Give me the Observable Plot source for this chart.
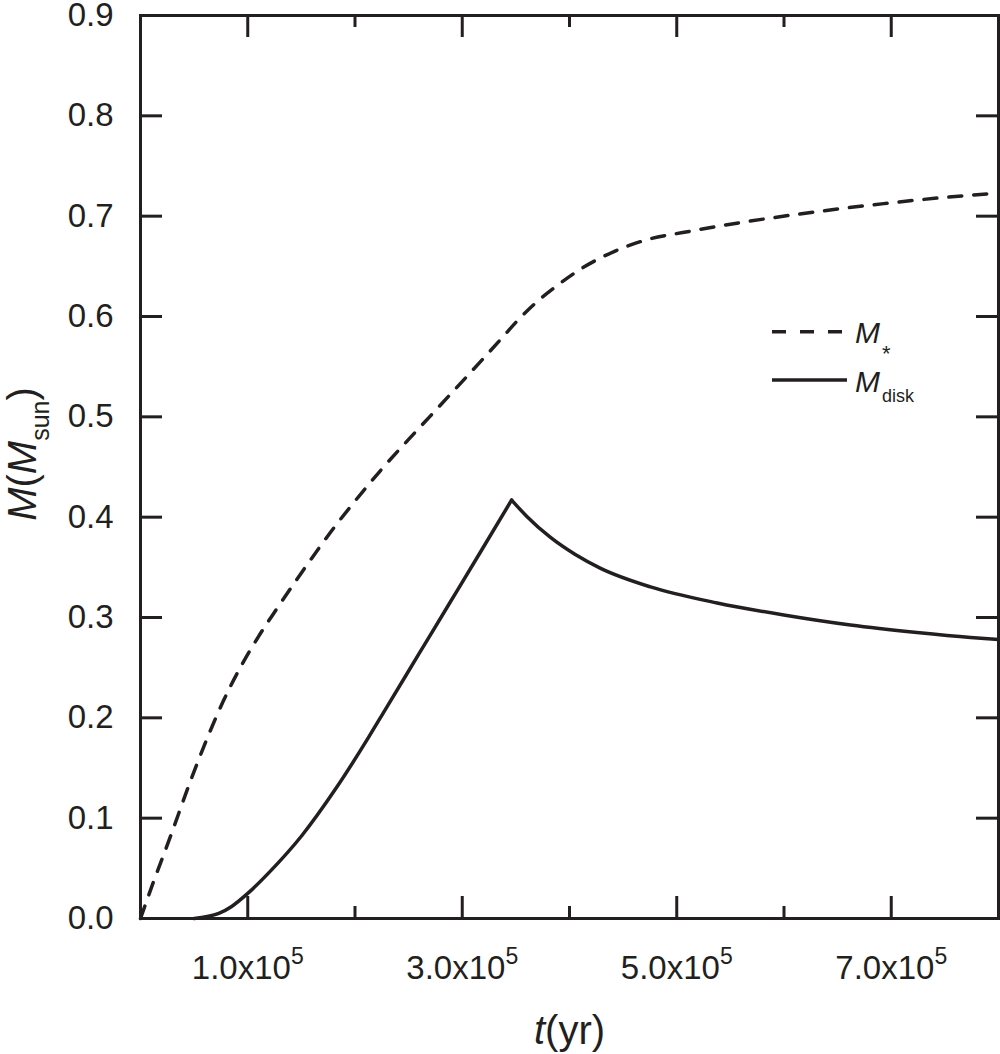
<!DOCTYPE html>
<html>
<head>
<meta charset="utf-8">
<script src="https://cdn.jsdelivr.net/npm/d3@7"></script>
<script src="https://cdn.jsdelivr.net/npm/@observablehq/plot@0.6"></script>
<style>
  html, body { margin: 0; padding: 0; background: #fff; }
  #chart { width: 1000px; height: 1054px; }
</style>
</head>
<body>
<div id="chart"></div>
<script>
// ---- data (t in years, mass in solar masses) ----
const starT = [0, 0.109e5, 0.28e5, 0.452e5, 0.623e5, 0.769e5, 0.935e5, 1.10e5, 1.26e5, 1.445e5, 1.663e5, 1.772e5, 2.0e5, 2.238e5, 2.5e5, 2.704e5, 2.89e5, 3.17e5, 3.357e5, 3.543e5, 3.70e5, 3.85e5, 4.10e5, 4.41e5, 4.72e5, 5.10e5, 5.59e5, 6.31e5, 6.93e5, 7.69e5, 8.0e5];
const starM = [0, 0.033, 0.082, 0.133, 0.180, 0.216, 0.251, 0.281, 0.307, 0.336, 0.369, 0.385, 0.416, 0.4465, 0.4775, 0.501, 0.5225, 0.555, 0.577, 0.599, 0.615, 0.628, 0.647, 0.6645, 0.6765, 0.6845, 0.6935, 0.7045, 0.7125, 0.7205, 0.723];

const diskT = [0.5e5, 0.73e5, 0.85e5, 1.0e5, 1.2e5, 1.507e5, 1.818e5, 2.129e5, 2.284e5, 2.6e5, 2.89e5, 3.17e5, 3.46e5, 3.60e5, 3.82e5, 4.05e5, 4.29e5, 4.755e5, 5.377e5, 5.998e5, 6.62e5, 7.24e5, 7.74e5, 8.0e5];
const diskM = [0, 0.005, 0.012, 0.025, 0.046, 0.083, 0.129, 0.181, 0.2085, 0.2644, 0.3157, 0.3653, 0.417, 0.401, 0.380, 0.363, 0.349, 0.3305, 0.3145, 0.3025, 0.2925, 0.285, 0.280, 0.278];

const xMajorTicks = [1e5, 3e5, 5e5, 7e5];
const xMinorTicks = [2e5, 4e5, 6e5];
const yTicks = [0.1, 0.2, 0.3, 0.4, 0.5, 0.6, 0.7, 0.8];
const yTickLabels = [0, 0.1, 0.2, 0.3, 0.4, 0.5, 0.6, 0.7, 0.8, 0.9];

const xLabel = "t(yr)";
const yLabel = "M(Msun)";
const legendLabels = ["M*", "Mdisk"];

// ---- layout / style ----
const ink = "#231f20";
const font = "'Liberation Sans', Arial, Helvetica, sans-serif";
const W = 1000, H = 1054;
const mL = 140, mR = 2, mT = 15, mB = 136;
const innerW = W - mL - mR, innerH = H - mT - mB;
const majorLen = 22, minorLen = 12;

const starRows = starT.map((t, i) => ({t, m: starM[i]}));
const peak = diskM.indexOf(d3.max(diskM));
const diskRows = [];
diskT.forEach((t, i) => {
  if (i <= peak) diskRows.push({t, m: diskM[i], seg: "rise"});
  if (i >= peak) diskRows.push({t, m: diskM[i], seg: "fall"});
});

const svg = Plot.plot({
  width: W,
  height: H,
  marginLeft: mL, marginRight: mR, marginTop: mT, marginBottom: mB,
  style: {fontFamily: font, color: ink, background: "#fff", overflow: "visible"},
  x: {domain: [0, 8e5], axis: null},
  y: {domain: [0, 0.9], axis: null},
  marks: [
    // ticks (inward, mirrored on all four sides)
    Plot.ruleX(xMajorTicks, {x: d => d, insetTop: innerH - majorLen, stroke: ink, strokeWidth: 3}),
    Plot.ruleX(xMajorTicks, {x: d => d, insetBottom: innerH - majorLen, stroke: ink, strokeWidth: 3}),
    Plot.ruleX(xMinorTicks, {x: d => d, insetTop: innerH - minorLen, stroke: ink, strokeWidth: 3}),
    Plot.ruleX(xMinorTicks, {x: d => d, insetBottom: innerH - minorLen, stroke: ink, strokeWidth: 3}),
    Plot.ruleY(yTicks, {y: d => d, insetRight: innerW - majorLen, stroke: ink, strokeWidth: 3}),
    Plot.ruleY(yTicks, {y: d => d, insetLeft: innerW - majorLen, stroke: ink, strokeWidth: 3}),
    // data
    Plot.line(starRows, {x: "t", y: "m", curve: "monotone-x", stroke: ink, strokeWidth: 3.5, strokeDasharray: "13,12"}),
    Plot.line(diskRows, {x: "t", y: "m", z: "seg", curve: "monotone-x", stroke: ink, strokeWidth: 3.5}),
    Plot.frame({stroke: ink, strokeWidth: 3}),
    // tick labels
    Plot.text(yTickLabels, {x: 0, y: d => d, text: d => d.toFixed(1), textAnchor: "end", dx: -27, fontSize: 33, fill: ink}),
    Plot.text(xMajorTicks, {x: d => d, y: 0, text: d => (d / 1e5).toFixed(1) + "x10^5", textAnchor: "middle", lineAnchor: "top", dy: 37, fontSize: 33, fill: ink}),
    // axis labels
    Plot.text([xLabel], {frameAnchor: "bottom", textAnchor: "middle", lineAnchor: "bottom", dy: 125, fontSize: 40, fill: ink}),
    Plot.text([yLabel], {frameAnchor: "left", textAnchor: "middle", rotate: -90, lineAnchor: "bottom", dx: -105, dy: -13, fontSize: 40, fill: ink})
  ]
});

// rich text: superscripts, italics, subscripts
d3.select(svg).selectAll("text").each(function () {
  const el = d3.select(this);
  const s = this.textContent;
  if (s.includes("^")) {
    const [base, exp] = s.split("^");
    this.textContent = "";
    el.append("tspan").text(base);
    el.append("tspan").attr("dy", -15).attr("font-size", 23).text(exp);
  } else if (s === xLabel) {
    this.textContent = "";
    el.append("tspan").attr("font-style", "italic").text("t");
    el.append("tspan").text("(yr)");
  } else if (s === yLabel) {
    this.textContent = "";
    el.append("tspan").attr("font-style", "italic").text("M");
    el.append("tspan").text("(");
    el.append("tspan").attr("font-style", "italic").text("M");
    el.append("tspan").attr("font-size", 25).attr("dy", 13).text("sun");
    el.append("tspan").attr("dy", -13).text(")");
  }
});

// legend (inside plot, upper right)
const lg = d3.select(svg).append("g")
  .attr("font-family", font)
  .attr("text-anchor", "start")
  .attr("fill", ink);
lg.append("line").attr("x1", 772).attr("x2", 842).attr("y1", 331.7).attr("y2", 331.7)
  .attr("stroke", ink).attr("stroke-width", 3.5).attr("stroke-dasharray", "14,14");
const t1 = lg.append("text").attr("x", 855).attr("y", 343).attr("font-size", 30);
t1.append("tspan").attr("font-style", "italic").text(legendLabels[0].slice(0, 1));
t1.append("tspan").attr("font-size", 22).attr("dx", 2).attr("dy", 18).text(legendLabels[0].slice(1));
lg.append("line").attr("x1", 772).attr("x2", 847).attr("y1", 380).attr("y2", 380)
  .attr("stroke", ink).attr("stroke-width", 3.5);
const t2 = lg.append("text").attr("x", 855).attr("y", 391.7).attr("font-size", 30);
t2.append("tspan").attr("font-style", "italic").text(legendLabels[1].slice(0, 1));
t2.append("tspan").attr("font-size", 18).attr("dx", 2).attr("dy", 10).text(legendLabels[1].slice(1));

document.getElementById("chart").appendChild(svg);
</script>
</body>
</html>
